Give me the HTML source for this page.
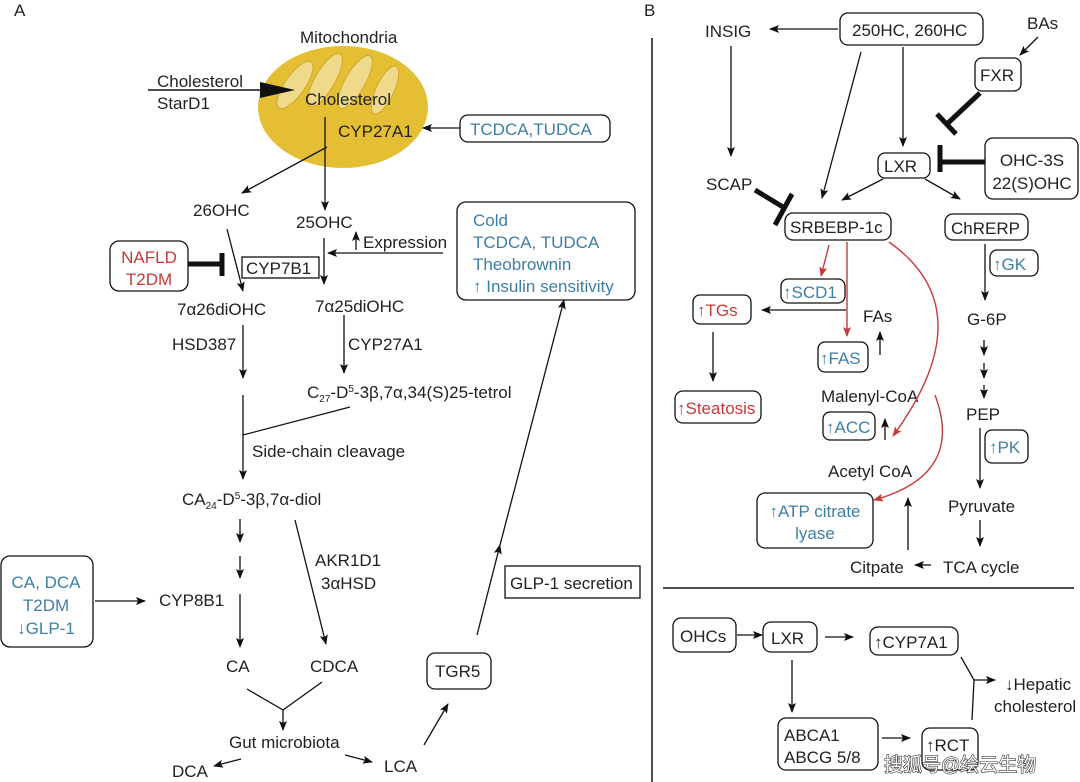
<!DOCTYPE html>
<html><head><meta charset="utf-8"><style>
html,body{margin:0;padding:0;background:#fff;}
svg{display:block;font-family:"Liberation Sans",Arial,sans-serif;}
text{font-size:17px;fill:#222;}
.b{fill:#3e7fa6}.r{fill:#c8393b}
</style></head><body>
<svg width="1080" height="782" viewBox="0 0 1080 782" xmlns="http://www.w3.org/2000/svg">
<defs>
<marker id="a" markerWidth="10" markerHeight="8" refX="9" refY="4" orient="auto" markerUnits="userSpaceOnUse"><path d="M0,0 L10,4 L0,8 L2,4z" fill="#111"/></marker>
<marker id="ar" markerWidth="10" markerHeight="8" refX="9" refY="4" orient="auto" markerUnits="userSpaceOnUse"><path d="M0,0 L10,4 L0,8 L2,4z" fill="#c8393b"/></marker>
</defs>
<g stroke="#111" stroke-width="1.5" fill="none">
<line x1="652" y1="38" x2="652" y2="782"/>
<line x1="663" y1="588" x2="1074" y2="588"/>
</g>
<text x="14" y="16">A</text><text x="644" y="16">B</text>
<!-- mitochondria -->
<ellipse cx="343" cy="107" rx="85" ry="61" fill="#e4bf34"/>
<g fill="#efd98a" stroke="#cfa82a" stroke-width="1">
<ellipse cx="295" cy="85" rx="10" ry="28" transform="rotate(35 295 85)"/>
<ellipse cx="325" cy="80" rx="10" ry="30" transform="rotate(30 325 80)"/>
<ellipse cx="355" cy="82" rx="10" ry="30" transform="rotate(30 355 82)"/>
<ellipse cx="385" cy="90" rx="9" ry="26" transform="rotate(25 385 90)"/>
</g>
<text x="300" y="43">Mitochondria</text>
<line x1="148" y1="90" x2="265" y2="90" stroke="#111" stroke-width="1.5"/>
<path d="M260,82 L295,90 L260,98z" fill="#111"/>
<text x="157" y="87">Cholesterol</text><text x="157" y="109">StarD1</text>
<text x="305" y="105">Cholesterol</text>
<text x="338" y="137">CYP27A1</text>
<rect x="460" y="115" width="150" height="27" rx="8" fill="#fff" stroke="#111" stroke-width="1.3"/>
<text x="470" y="135" class="b">TCDCA,TUDCA</text>
<g stroke="#111" stroke-width="1.3" fill="none" marker-end="url(#a)">
<line x1="460" y1="128" x2="423" y2="128"/>
<line x1="327" y1="147" x2="242" y2="193"/>
<line x1="325" y1="117" x2="325" y2="210"/>
<line x1="356" y1="250" x2="356" y2="232"/>
<line x1="443" y1="253" x2="328" y2="253"/>
<line x1="227" y1="229" x2="243" y2="291"/>
<line x1="324" y1="238" x2="324" y2="284"/>
<line x1="243" y1="325" x2="243" y2="378"/>
<line x1="344" y1="315" x2="344" y2="373"/>
<line x1="243" y1="395" x2="243" y2="479"/>
<line x1="240" y1="519" x2="240" y2="542"/>
<line x1="240" y1="556" x2="240" y2="578"/>
<line x1="240" y1="594" x2="240" y2="647"/>
<line x1="95" y1="601" x2="145" y2="601"/>
<line x1="295" y1="520" x2="326" y2="644"/>
<line x1="283" y1="710" x2="283" y2="730"/>
<line x1="241" y1="759" x2="214" y2="766"/>
<line x1="345" y1="755" x2="372" y2="762"/>
<line x1="424" y1="745" x2="448" y2="704"/>
<line x1="477" y1="635" x2="500" y2="545"/>
<line x1="500" y1="545" x2="564" y2="300"/>
</g>
<g stroke="#111" stroke-width="1.3" fill="none">
<line x1="350" y1="407" x2="243" y2="435"/>
<polyline points="247,689 283,710 322,682"/>
</g>
<text x="193" y="216">26OHC</text><text x="296" y="228">25OHC</text>
<text x="363" y="248">Expression</text>
<rect x="457" y="202" width="178" height="98" rx="9" fill="#fff" stroke="#111" stroke-width="1.3"/>
<text x="473" y="226" class="b">Cold</text><text x="473" y="248" class="b">TCDCA, TUDCA</text>
<text x="473" y="270" class="b">Theobrownin</text><text x="473" y="292" class="b">↑ Insulin sensitivity</text>
<rect x="110" y="241" width="78" height="50" rx="9" fill="#fff" stroke="#111" stroke-width="1.3"/>
<text x="149" y="263" text-anchor="middle" class="r">NAFLD</text><text x="149" y="285" text-anchor="middle" class="r">T2DM</text>
<line x1="188" y1="264" x2="222" y2="264" stroke="#111" stroke-width="5"/>
<line x1="222" y1="253" x2="222" y2="276" stroke="#111" stroke-width="5"/>
<rect x="242" y="257" width="77" height="21" fill="#fff" stroke="#111" stroke-width="1.3"/>
<text x="246" y="274">CYP7B1</text>
<text x="177" y="315">7α26diOHC</text><text x="315" y="312">7α25diOHC</text>
<text x="172" y="350">HSD387</text><text x="348" y="350">CYP27A1</text>
<text x="307" y="398">C<tspan font-size="10" dy="4">27</tspan><tspan dy="-4">-D</tspan><tspan font-size="10" dy="-6">5</tspan><tspan dy="6">-3β,7α,34(S)25-tetrol</tspan></text>
<text x="252" y="457">Side-chain cleavage</text>
<text x="182" y="505">CA<tspan font-size="10" dy="4">24</tspan><tspan dy="-4">-D</tspan><tspan font-size="10" dy="-6">5</tspan><tspan dy="6">-3β,7α-diol</tspan></text>
<rect x="1" y="556" width="92" height="91" rx="9" fill="#fff" stroke="#111" stroke-width="1.3"/>
<text x="46" y="588" text-anchor="middle" class="b">CA, DCA</text><text x="46" y="611" text-anchor="middle" class="b">T2DM</text><text x="46" y="634" text-anchor="middle" class="b">↓GLP-1</text>
<text x="159" y="606">CYP8B1</text>
<text x="315" y="566">AKR1D1</text><text x="321" y="589">3αHSD</text>
<text x="226" y="672">CA</text><text x="310" y="672">CDCA</text>
<text x="229" y="748">Gut microbiota</text>
<text x="172" y="777">DCA</text><text x="384" y="772">LCA</text>
<rect x="427" y="653" width="64" height="36" rx="8" fill="#fff" stroke="#111" stroke-width="1.3"/>
<text x="435" y="677">TGR5</text>
<rect x="505" y="566" width="135" height="32" fill="#fff" stroke="#111" stroke-width="1.3"/>
<text x="510" y="589">GLP-1 secretion</text>
<!-- B -->
<text x="705" y="37">INSIG</text>
<rect x="840" y="13" width="143" height="32" rx="8" fill="#fff" stroke="#111" stroke-width="1.3"/>
<text x="852" y="36">250HC, 260HC</text>
<text x="1027" y="29">BAs</text>
<rect x="975" y="58" width="46" height="33" rx="7" fill="#fff" stroke="#111" stroke-width="1.3"/>
<text x="980" y="81">FXR</text>
<rect x="878" y="153" width="52" height="25" rx="7" fill="#fff" stroke="#111" stroke-width="1.3"/>
<text x="884" y="172">LXR</text>
<rect x="985" y="138" width="93" height="61" rx="8" fill="#fff" stroke="#111" stroke-width="1.3"/>
<text x="1032" y="166" text-anchor="middle">OHC-3S</text><text x="1032" y="189" text-anchor="middle">22(S)OHC</text>
<text x="706" y="190">SCAP</text>
<rect x="785" y="213" width="106" height="27" rx="8" fill="#fff" stroke="#111" stroke-width="1.3"/>
<text x="790" y="233">SRBEBP-1c</text>
<rect x="945" y="214" width="83" height="26" rx="8" fill="#fff" stroke="#111" stroke-width="1.3"/>
<text x="951" y="234">ChRERP</text>
<rect x="990" y="250" width="48" height="26" rx="7" fill="#fff" stroke="#111" stroke-width="1.3"/>
<text x="993" y="270" class="b">↑GK</text>
<text x="967" y="325">G-6P</text>
<text x="966" y="420">PEP</text>
<rect x="985" y="430" width="43" height="33" rx="7" fill="#fff" stroke="#111" stroke-width="1.3"/>
<text x="989" y="453" class="b">↑PK</text>
<text x="948" y="512">Pyruvate</text>
<text x="943" y="573">TCA cycle</text><text x="850" y="573">Citpate</text>
<rect x="757" y="493" width="116" height="55" rx="8" fill="#fff" stroke="#111" stroke-width="1.3"/>
<text x="815" y="517" text-anchor="middle" class="b">↑ATP citrate</text><text x="815" y="539" text-anchor="middle" class="b">lyase</text>
<text x="828" y="477">Acetyl CoA</text>
<text x="821" y="402">Malenyl-CoA</text>
<rect x="823" y="412" width="52" height="28" rx="7" fill="#fff" stroke="#111" stroke-width="1.3"/>
<text x="826" y="433" class="b">↑ACC</text>
<text x="863" y="322">FAs</text>
<rect x="818" y="342" width="50" height="30" rx="7" fill="#fff" stroke="#111" stroke-width="1.3"/>
<text x="820" y="364" class="b">↑FAS</text>
<rect x="781" y="279" width="64" height="24" rx="7" fill="#fff" stroke="#111" stroke-width="1.3"/>
<text x="783" y="298" class="b">↑SCD1</text>
<rect x="693" y="295" width="58" height="29" rx="7" fill="#fff" stroke="#111" stroke-width="1.3"/>
<text x="697" y="316" class="r">↑TGs</text>
<rect x="675" y="391" width="86" height="32" rx="8" fill="#fff" stroke="#111" stroke-width="1.3"/>
<text x="677" y="414" class="r">↑Steatosis</text>
<g stroke="#111" stroke-width="1.3" fill="none" marker-end="url(#a)">
<line x1="838" y1="29" x2="770" y2="29"/>
<line x1="1038" y1="37" x2="1020" y2="55"/>
<line x1="731" y1="46" x2="731" y2="156"/>
<line x1="861" y1="52" x2="822" y2="198"/>
<line x1="903" y1="47" x2="903" y2="146"/>
<line x1="883" y1="179" x2="842" y2="200"/>
<line x1="925" y1="179" x2="960" y2="199"/>
<line x1="985" y1="244" x2="985" y2="300"/>
<line x1="984" y1="340" x2="984" y2="355"/>
<line x1="984" y1="363" x2="984" y2="378"/>
<line x1="984" y1="385" x2="984" y2="398"/>
<line x1="980" y1="428" x2="980" y2="488"/>
<line x1="980" y1="520" x2="980" y2="546"/>
<line x1="931" y1="565" x2="915" y2="565"/>
<line x1="908" y1="550" x2="908" y2="498"/>
<line x1="885" y1="440" x2="885" y2="419"/>
<line x1="880" y1="355" x2="880" y2="332"/>
<line x1="846" y1="310" x2="762" y2="310"/>
<line x1="713" y1="332" x2="713" y2="381"/>
<line x1="737" y1="635" x2="762" y2="635"/>
<line x1="825" y1="637" x2="853" y2="637"/>
<line x1="974" y1="680" x2="995" y2="680"/>
<line x1="792" y1="660" x2="792" y2="712"/>
<line x1="882" y1="738" x2="910" y2="738"/>
</g>
<g stroke="#111" stroke-width="1.3" fill="none">
<polyline points="961,657 974,680 972,720"/>
</g>
<g stroke="#111" stroke-width="5">
<line x1="980" y1="93" x2="948" y2="123"/><line x1="937" y1="114" x2="956" y2="134"/>
<line x1="985" y1="162" x2="942" y2="162"/><line x1="940" y1="145" x2="940" y2="172"/>
<line x1="755" y1="190" x2="783" y2="207"/><line x1="792" y1="194" x2="775" y2="225"/>
</g>
<g stroke="#c8393b" stroke-width="1.4" fill="none" marker-end="url(#ar)">
<line x1="829" y1="245" x2="821" y2="276"/>
<line x1="847" y1="242" x2="847" y2="336"/>
<path d="M889,242 Q985,310 893,436"/>
<path d="M935,395 Q965,475 874,500"/>
</g>
<rect x="673" y="618" width="63" height="34" rx="8" fill="#fff" stroke="#111" stroke-width="1.3"/>
<text x="680" y="642">OHCs</text>
<rect x="763" y="622" width="54" height="30" rx="8" fill="#fff" stroke="#111" stroke-width="1.3"/>
<text x="771" y="644">LXR</text>
<rect x="870" y="627" width="88" height="28" rx="8" fill="#fff" stroke="#111" stroke-width="1.3"/>
<text x="874" y="648">↑CYP7A1</text>
<text x="1005" y="690">↓Hepatic</text><text x="994" y="712">cholesterol</text>
<rect x="778" y="718" width="100" height="52" rx="8" fill="#fff" stroke="#111" stroke-width="1.3"/>
<text x="784" y="741">ABCA1</text><text x="784" y="763">ABCG 5/8</text>
<rect x="922" y="728" width="56" height="42" rx="8" fill="#fff" stroke="#111" stroke-width="1.3"/>
<text x="926" y="751">↑RCT</text>
<text x="884" y="771" style="font-family:'Liberation Sans','Noto Sans CJK SC',sans-serif;font-size:19px;fill:#fff;stroke:#333;stroke-width:1.2;paint-order:stroke">搜狐号@绘云生物</text>
</svg>
</body></html>
